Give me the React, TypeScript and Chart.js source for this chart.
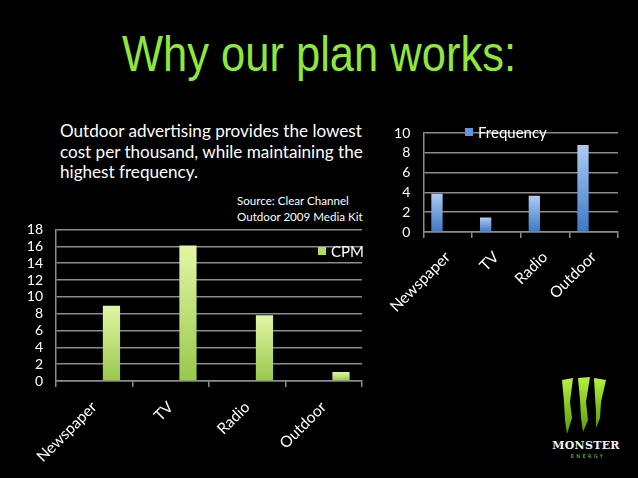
import React, { useEffect, useRef } from 'react';
import { Chart, registerables } from 'chart.js';

Chart.register(...registerables);

const categories = ['Newspaper', 'TV', 'Radio', 'Outdoor'];
const cpmValues = [8.95, 16.1, 7.8, 1.07];
const frequencyValues = [3.87, 1.47, 3.67, 8.79];
const emptyValues = [null, null, null, null];
const cpmAxis = { min: 0, max: 18, step: 2 };
const frequencyAxis = { min: 0, max: 10, step: 2 };
const cpmName = 'CPM';
const frequencyName = 'Frequency';
const titleText = 'Why our plan works:';
const bodyLines = [
  'Outdoor advertising provides the lowest',
  'cost per thousand, while maintaining the',
  'highest frequency.',
];
const sourceLines = ['Source: Clear Channel', 'Outdoor 2009 Media Kit'];

const FONT = 'Lato, "Open Sans", sans-serif';
const GRID = '#8c8c8c';

type BarChartProps = {
  values: number[];
  name: string;
  dataFirst: boolean;
  axis: { min: number; max: number; step: number };
  top: string;
  bottom: string;
  box: { left: number; top: number; width: number; height: number };
  yWidth: number;
  xHeight: number;
  pad: { top: number; right: number };
  catPct: number;
  barPct: number;
  xPad: number;
};

function BarChart(p: BarChartProps) {
  const ref = useRef<HTMLCanvasElement | null>(null);
  useEffect(() => {
    if (!ref.current) return;
    const bg = (ctx: any) => {
      const chart = ctx.chart;
      const area = chart.chartArea;
      if (!area || ctx.raw == null) return p.top;
      const ys = chart.scales.y;
      const y0 = ys.getPixelForValue(ctx.raw);
      const y1 = ys.getPixelForValue(0);
      const g = chart.ctx.createLinearGradient(0, y0, 0, y1);
      g.addColorStop(0, p.top);
      g.addColorStop(1, p.bottom);
      return g;
    };
    const dataSet = {
      label: p.name,
      data: p.values,
      backgroundColor: bg,
      borderWidth: 0,
      categoryPercentage: p.catPct,
      barPercentage: p.barPct,
    };
    const blankSet = {
      label: '',
      data: emptyValues,
      backgroundColor: 'rgba(0,0,0,0)',
      categoryPercentage: p.catPct,
      barPercentage: p.barPct,
    };
    const chart = new Chart(ref.current, {
      type: 'bar',
      data: {
        labels: categories,
        datasets: (p.dataFirst ? [dataSet, blankSet] : [blankSet, dataSet]) as any,
      },
      options: {
        animation: false,
        responsive: false,
        maintainAspectRatio: false,
        layout: { padding: { top: p.pad.top, right: p.pad.right, left: 0, bottom: 0 } },
        plugins: { legend: { display: false }, tooltip: { enabled: false } },
        scales: {
          x: {
            grid: {
              display: true,
              drawOnChartArea: false,
              drawTicks: true,
              tickLength: 6,
              color: GRID,
              lineWidth: 1.5,
              offset: true,
            },
            border: { display: true, color: GRID, width: 1.5 },
            ticks: {
              color: '#ffffff',
              font: { family: FONT, size: 15.5 },
              minRotation: 45,
              maxRotation: 45,
              autoSkip: false,
              padding: p.xPad,
            },
            afterFit: (s: any) => {
              s.height = p.xHeight;
            },
          },
          y: {
            min: p.axis.min,
            max: p.axis.max,
            grid: { color: GRID, lineWidth: 1.5, drawTicks: true, tickLength: 12, tickColor: 'rgba(0,0,0,0)' },
            border: { display: true, color: GRID, width: 1.5 },
            ticks: {
              stepSize: p.axis.step,
              autoSkip: false,
              color: '#ffffff',
              font: { family: FONT, size: 14 },
              padding: 1,
            },
            afterFit: (s: any) => {
              s.width = p.yWidth;
            },
          },
        },
      } as any,
    });
    return () => chart.destroy();
  }, []);
  return (
    <canvas
      ref={ref}
      width={p.box.width}
      height={p.box.height}
      style={{ position: 'absolute', left: p.box.left, top: p.box.top, width: p.box.width, height: p.box.height }}
    />
  );
}

function Legend({ left, top, color, name }: { left: number; top: number; color: string; name: string }) {
  return (
    <div style={{ position: 'absolute', left, top, display: 'flex', alignItems: 'center', fontFamily: FONT, fontSize: 15, color: '#fff', lineHeight: '16px' }}>
      <span style={{ display: 'inline-block', width: 8, height: 8, background: color, marginRight: 5 }} />
      <span>{name}</span>
    </div>
  );
}

export default function App() {
  useEffect(() => {
    document.body.style.margin = '0';
    document.body.style.background = '#000';
  }, []);
  return (
    <div style={{ position: 'fixed', left: 0, top: 0, width: 638, height: 478, background: '#000', overflow: 'hidden' }}>
      <div
        style={{
          position: 'absolute',
          left: 0,
          top: 24,
          width: 638,
          textAlign: 'center',
          fontFamily: '"Liberation Sans", Arial, sans-serif',
          fontSize: 43.5,
          color: '#8fe63c',
          lineHeight: '52px',
          transform: 'scaleY(1.14)',
          transformOrigin: 'center top',
        }}
      >
        {titleText}
      </div>
      <div style={{ position: 'absolute', left: 60, top: 121, fontFamily: FONT, fontSize: 17.1, lineHeight: '20.5px', color: '#fff', whiteSpace: 'nowrap' }}>
        {bodyLines.map((l, i) => (
          <div key={i}>{l}</div>
        ))}
      </div>
      <div style={{ position: 'absolute', left: 237, top: 193, fontFamily: FONT, fontSize: 11.6, lineHeight: '16px', color: '#fff', whiteSpace: 'nowrap' }}>
        {sourceLines.map((l, i) => (
          <div key={i}>{l}</div>
        ))}
      </div>

      <BarChart
        values={cpmValues}
        name={cpmName}
        dataFirst={false}
        axis={cpmAxis}
        top="#e2f6a6"
        bottom="#98c84a"
        box={{ left: 0, top: 220, width: 375, height: 258 }}
        yWidth={56}
        xHeight={97}
        pad={{ top: 9.5, right: 13 }}
        catPct={0.9}
        barPct={0.5}
        xPad={11}
      />
      <Legend left={318} top={243} color="#b2dc60" name={cpmName} />

      <BarChart
        values={frequencyValues}
        name={frequencyName}
        dataFirst={true}
        axis={frequencyAxis}
        top="#aecbf4"
        bottom="#3b78c6"
        box={{ left: 378, top: 118, width: 260, height: 200 }}
        yWidth={39}
        xHeight={86}
        pad={{ top: 15, right: 20 }}
        catPct={0.876}
        barPct={0.53}
        xPad={10}
      />
      <Legend left={465} top={124} color="#5f95dc" name={frequencyName} />

      <svg style={{ position: 'absolute', left: 548, top: 372 }} width={76} height={96} viewBox="0 0 76 96">
        <defs>
          <linearGradient id="claw" x1="0" y1="0" x2="0" y2="1">
            <stop offset="0" stopColor="#b6f23a" />
            <stop offset="1" stopColor="#5a9a12" />
          </linearGradient>
        </defs>
        <path d="M14 8 L25 6 L22 30 L24 46 L19 62 L17 48 L16 30 Z" fill="url(#claw)" />
        <path d="M30 6 L42 5 L38 30 L40 48 L35 60 L33 46 L32 28 Z" fill="url(#claw)" />
        <path d="M46 6 L58 8 L53 30 L52 46 L48 56 L48 40 L47 24 Z" fill="url(#claw)" />
        <text x="38" y="77" textAnchor="middle" fill="#f2f2f2" fontFamily="'DejaVu Serif', serif" fontWeight="bold" fontSize="11" letterSpacing="0.3">MONSTER</text>
        <text x="40" y="86" textAnchor="middle" fill="#8fd13a" fontFamily="'DejaVu Sans', sans-serif" fontSize="5" letterSpacing="2.4">ENERGY</text>
      </svg>
    </div>
  );
}
